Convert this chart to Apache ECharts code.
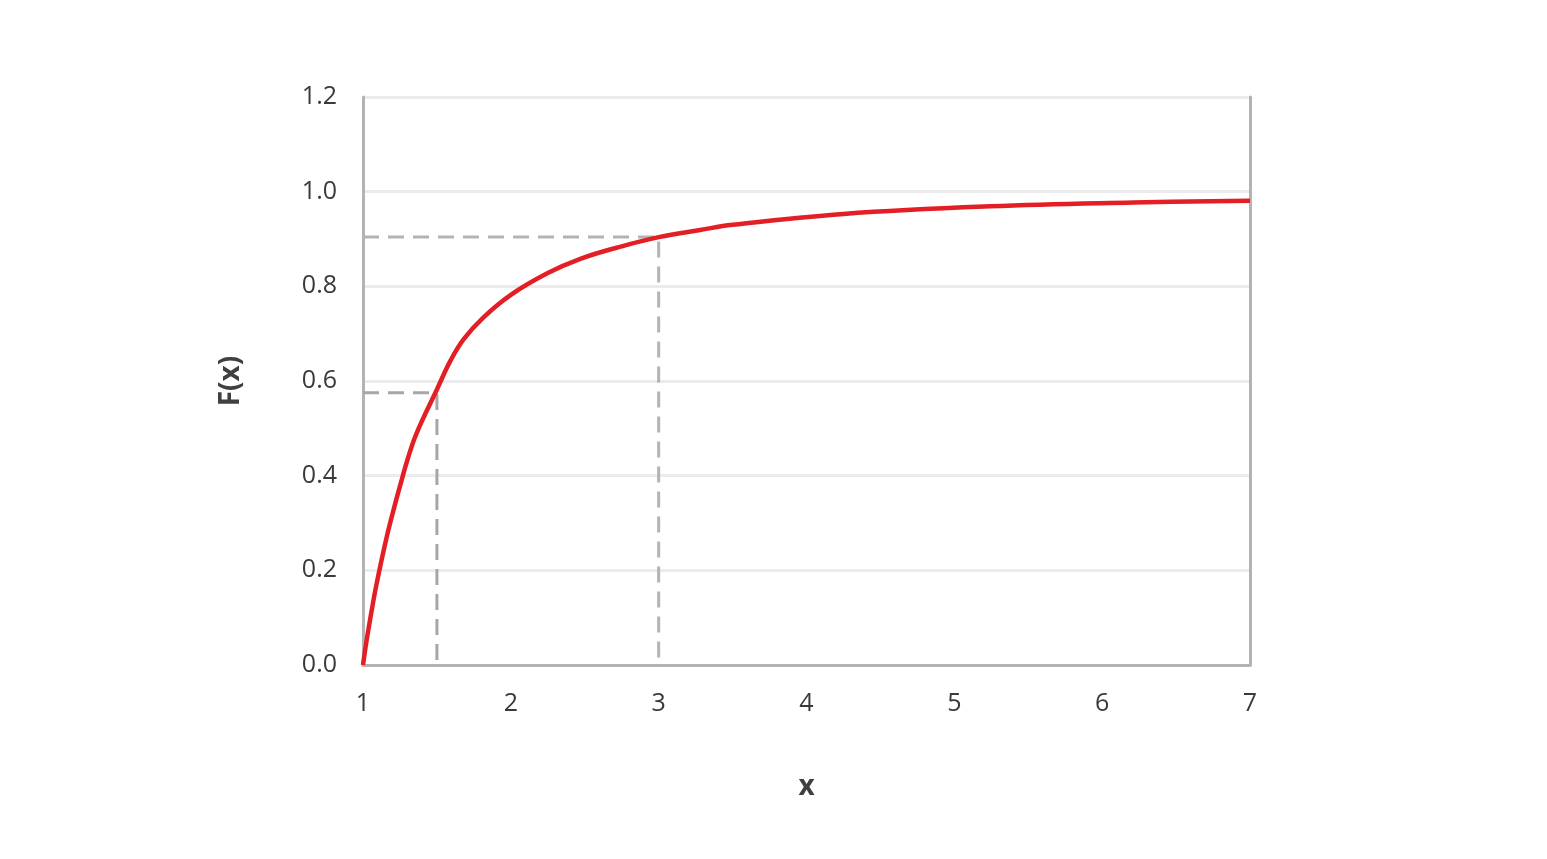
<!DOCTYPE html>
<html>
<head>
<meta charset="utf-8">
<script src="https://cdn.jsdelivr.net/npm/echarts@6/dist/echarts.min.js"></script>
<style>
html,body{margin:0;padding:0;background:#fff;}
#chart{width:1547px;height:859px;}
</style>
</head>
<body>
<div id="chart"></div>
<script>
// Curve F(x)
var curveX = [1, 1.025, 1.063, 1.093, 1.16, 1.217, 1.25, 1.307, 1.363, 1.5, 1.59, 1.68, 1.81, 2.0, 2.25, 2.47, 2.72, 3.0, 3.28, 3.5, 4.25, 5.24, 6.21, 7];
var curveY = [0, 0.053, 0.123, 0.173, 0.27, 0.34, 0.378, 0.44, 0.49, 0.582, 0.642, 0.688, 0.733, 0.782, 0.828, 0.858, 0.882, 0.904, 0.919, 0.93, 0.953, 0.969, 0.977, 0.981];

// Guide (dashed) lines
var guide1X = [1, 1.5, 1.5];
var guide1Y = [0.575, 0.575, 0];
var guide2X = [1, 3, 3];
var guide2Y = [0.904, 0.904, 0];

// Axis ticks
var xTicks = [1, 2, 3, 4, 5, 6, 7];
var yTicks = [0, 0.2, 0.4, 0.6, 0.8, 1.0, 1.2];

function pairs(xs, ys) { return xs.map(function (x, i) { return [x, ys[i]]; }); }

var font = '"Open Sans", "Noto Sans", sans-serif';
var chart = echarts.init(document.getElementById('chart'));
chart.setOption({
  animation: false,
  backgroundColor: '#ffffff',
  grid: { left: 363, right: 297, top: 97, bottom: 194, containLabel: false },
  xAxis: {
    type: 'value',
    min: xTicks[0], max: xTicks[xTicks.length - 1], interval: 1,
    name: 'x', nameLocation: 'middle', nameGap: 108,
    nameTextStyle: { fontFamily: font, fontSize: 28, fontWeight: 'bold', color: '#404040' },
    axisLine: { show: true, lineStyle: { color: '#b3b3b3', width: 3 } },
    axisTick: { show: false },
    axisLabel: { fontFamily: font, fontSize: 25, color: '#3a3a3a', margin: 26 },
    splitLine: { show: false }
  },
  yAxis: [{
    type: 'value',
    min: yTicks[0], max: yTicks[yTicks.length - 1], interval: 0.2,
    name: 'F(x)', nameLocation: 'middle', nameGap: 118, nameRotate: 90,
    nameTextStyle: { fontFamily: font, fontSize: 28, fontWeight: 'bold', color: '#404040' },
    axisLine: { show: true, lineStyle: { color: '#b3b3b3', width: 3 } },
    axisTick: { show: false },
    axisLabel: { fontFamily: font, fontSize: 25, color: '#3a3a3a', margin: 26,
      formatter: function (v) { return v.toFixed(1); } },
    splitLine: { show: true, lineStyle: { color: '#ebebeb', width: 3 } }
  }, {
    type: 'value', position: 'right',
    min: yTicks[0], max: yTicks[yTicks.length - 1], interval: 0.2,
    axisLine: { show: true, lineStyle: { color: '#b3b3b3', width: 3 } },
    axisTick: { show: false }, axisLabel: { show: false }, splitLine: { show: false }
  }],
  series: [
    {
      type: 'line', data: pairs(guide1X, guide1Y), symbol: 'none', silent: true,
      lineStyle: { color: '#a6a6a6', width: 3, type: [16, 9] }
    },
    {
      type: 'line', data: pairs(guide2X, guide2Y), symbol: 'none', silent: true,
      lineStyle: { color: '#b3b3b3', width: 3, type: [16, 9] }
    },
    {
      type: 'line', data: pairs(curveX, curveY), symbol: 'none',
      smooth: 0.4,
      lineStyle: { color: '#e31e24', width: 4.5 }
    }
  ]
});
</script>
</body>
</html>
